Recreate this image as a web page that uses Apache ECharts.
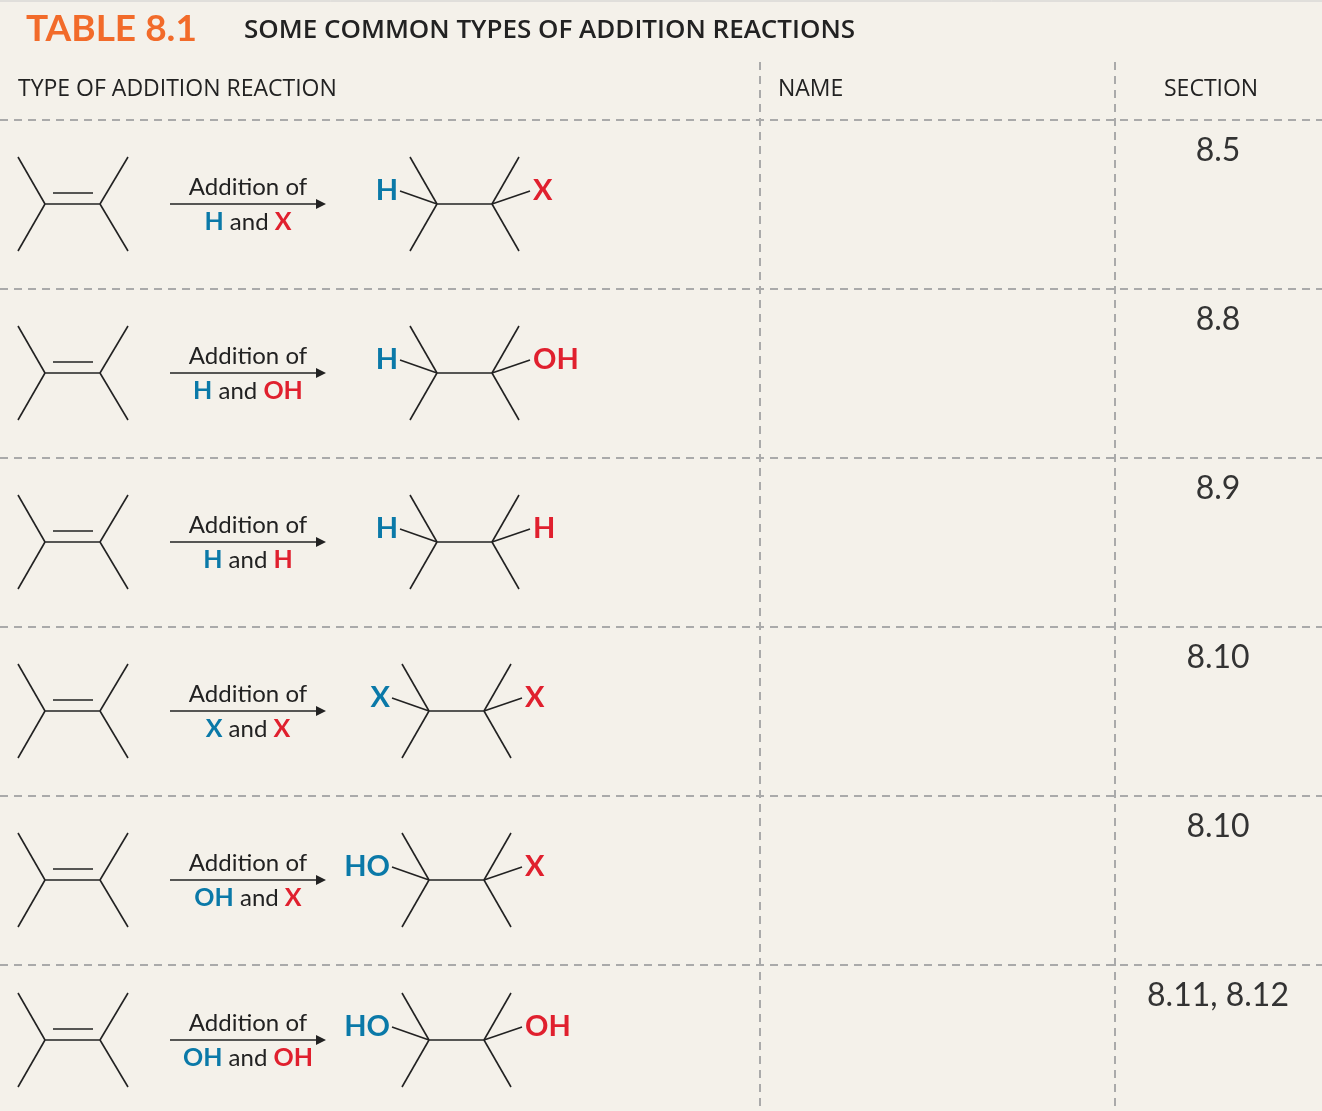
<!DOCTYPE html>
<html>
<head>
<meta charset="utf-8">
<script src="https://cdn.jsdelivr.net/npm/echarts@6/dist/echarts.min.js"></script>
<style>html,body{margin:0;padding:0;background:#f4f1ea}#main{width:1322px;height:1111px}</style>
</head>
<body>
<div id="main"></div>
<script>
var rows = [0, 1, 2, 3, 4, 5];
var addA = ['H', 'H', 'H', 'X', 'OH', 'OH'];
var addB = ['X', 'OH', 'H', 'X', 'X', 'OH'];
var prodA = ['H', 'H', 'H', 'X', 'HO', 'HO'];
var prodB = ['X', 'OH', 'H', 'X', 'X', 'OH'];
var sections = ['8.5', '8.8', '8.9', '8.10', '8.10', '8.11, 8.12'];

var BLUE = '#0a79a8', RED = '#e0202e', INK = '#222', FONT = 'Lato, "Open Sans", sans-serif';
var HFONT = '"Open Sans", sans-serif';

var dom = document.getElementById('main');
var myChart = echarts.init(dom, null, { renderer: 'canvas' });

function line(api, a, b, w) {
    var p = api.coord(a), q = api.coord(b);
    return { type: 'line', shape: { x1: p[0], y1: p[1], x2: q[0], y2: q[1] },
        style: { stroke: INK, lineWidth: w || 1.6 } };
}
function text(api, pt, str, opt) {
    var p = api.coord(pt);
    return { type: 'text', x: p[0], y: p[1], style: Object.assign({
        text: str, font: '24px ' + FONT, fill: INK, align: 'center', verticalAlign: 'middle' }, opt) };
}

function renderRow(params, api) {
    var i = api.value(0);
    var y0 = 120 + i * 169;
    var c = y0 + (i === 5 ? 75 : 84);
    var kids = [];
    // alkene
    kids.push(line(api, [45, c], [100, c]));
    kids.push(line(api, [53, c - 11], [93, c - 11]));
    kids.push(line(api, [45, c], [18, c - 47]), line(api, [45, c], [18, c + 47]));
    kids.push(line(api, [100, c], [128, c - 47]), line(api, [100, c], [128, c + 47]));
    // arrow
    kids.push(line(api, [170, c], [322, c]));
    var ah = api.coord([325, c]);
    kids.push({ type: 'polygon', shape: { points: [[ah[0] + 1, ah[1]], [ah[0] - 9, ah[1] - 5], [ah[0] - 9, ah[1] + 5]] },
        style: { fill: INK } });
    kids.push(text(api, [248, c - 17], 'Addition of'));
    kids.push(text(api, [248, c + 18], '{a|' + addA[i] + '} and {b|' + addB[i] + '}', {
        rich: { a: { fill: BLUE, font: 'bold 25px ' + FONT }, b: { fill: RED, font: 'bold 25px ' + FONT } } }));
    // product
    var s = i >= 3 ? -8 : 0;
    var l = 437 + s, r = 492 + s;
    kids.push(line(api, [l, c], [r, c]));
    kids.push(line(api, [l, c], [l - 27, c - 47]), line(api, [l, c], [l - 27, c + 47]));
    kids.push(line(api, [r, c], [r + 27, c - 47]), line(api, [r, c], [r + 27, c + 47]));
    var le = l - 37, re = r + 38;
    kids.push(line(api, [l, c], [le, c - 13]));
    kids.push(line(api, [r, c], [re, c - 13]));
    kids.push(text(api, [le - 2, c - 13], prodA[i], { align: 'right', fill: BLUE, font: 'bold 29px ' + FONT }));
    kids.push(text(api, [re + 3, c - 13], prodB[i], { align: 'left', fill: RED, font: 'bold 29px ' + FONT }));
    // section
    kids.push(text(api, [1218, y0 + 31], sections[i], { font: '32px ' + FONT, fill: '#333' }));
    // row bottom dashed line
    if (i < rows.length - 1) {
        var a = api.coord([0, y0 + 169]), b = api.coord([1322, y0 + 169]);
        kids.push({ type: 'line', shape: { x1: a[0], y1: a[1], x2: b[0], y2: b[1] },
            style: { stroke: '#aaa', lineWidth: 2, lineDash: [8, 6] } });
    }
    return { type: 'group', children: kids };
}

var dash = { stroke: '#aaa', lineWidth: 2, lineDash: [8, 6] };
var option = {
    backgroundColor: '#f4f1ea',
    animation: false,
    grid: { left: 0, right: 0, top: 0, bottom: 0 },
    xAxis: { type: 'value', min: 0, max: 1322, show: false },
    yAxis: { type: 'value', min: 0, max: 1111, inverse: true, show: false },
    graphic: [
        { type: 'line', shape: { x1: 0, y1: 1, x2: 1322, y2: 1 }, style: { stroke: '#ccc', lineWidth: 1 } },
        { type: 'text', left: 26, top: 11, style: { text: 'TABLE 8.1', font: 'bold 37px ' + FONT, fill: '#f26b2a' } },
        { type: 'text', left: 244, top: 18, style: { text: 'SOME COMMON TYPES OF ADDITION REACTIONS', font: '600 26px ' + HFONT, fill: INK } },
        { type: 'text', left: 18, top: 78, style: { text: 'TYPE OF ADDITION REACTION', font: '500 23px ' + HFONT, fill: INK } },
        { type: 'text', left: 778, top: 78, style: { text: 'NAME', font: '500 23px ' + HFONT, fill: INK } },
        { type: 'text', left: 1164, top: 78, style: { text: 'SECTION', font: '500 23px ' + HFONT, fill: INK } },
        { type: 'line', shape: { x1: 0, y1: 120, x2: 1322, y2: 120 }, style: dash },
        { type: 'line', shape: { x1: 760, y1: 62, x2: 760, y2: 1111 }, style: dash },
        { type: 'line', shape: { x1: 1115, y1: 62, x2: 1115, y2: 1111 }, style: dash }
    ],
    series: [{
        type: 'custom',
        renderItem: renderRow,
        data: rows.map(function (r) { return [r]; }),
        silent: true
    }]
};

myChart.setOption(option);
window.addEventListener('resize', myChart.resize);
</script>
</body>
</html>
